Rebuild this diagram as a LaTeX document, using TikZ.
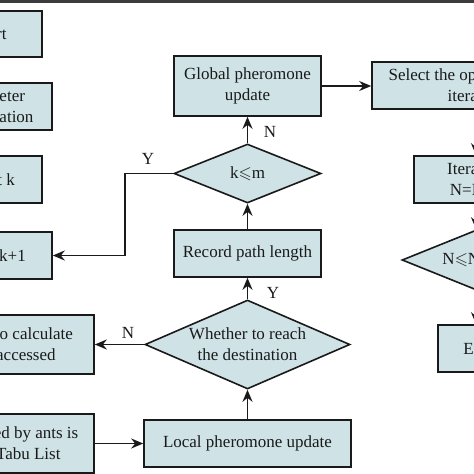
\documentclass[tikz,border=0pt]{standalone}
\usepackage{fontspec}
\setmainfont{Liberation Serif}
\usepackage{amssymb}
\usetikzlibrary{arrows.meta,shapes.geometric,positioning}
\definecolor{boxfill}{HTML}{CFE3E7}
\definecolor{inkgray}{HTML}{1A1A1A}
\definecolor{topbar}{HTML}{3C3C3C}

\begin{document}
\begin{tikzpicture}[x=1pt,y=-1pt,
	box/.style={draw=inkgray,fill=boxfill,line width=1.6pt,align=center,inner sep=0pt,text=inkgray,font=\fontsize{17}{21}\selectfont},
	dia/.style={box,diamond,aspect=2.3},
	lbl/.style={text=inkgray,font=\fontsize{17}{21}\selectfont,inner sep=0pt},
	arr/.style={draw=inkgray,line width=1.6pt,-{Stealth[length=12pt,width=10pt]}}]
	\clip (0,0) rectangle (474,474);
	\fill[white] (0,0) rectangle (474,474);
	% left column
	\node (start) at (-9.5,34)[box,minimum width=103pt,minimum height=46pt] {Start};
	\node (init) at (-9.5,106.5)[box,minimum width=123pt,minimum height=47pt] {Parameter\\initialization};
	\node (antk) at (-15,179.5)[box,minimum width=114pt,minimum height=47pt] {Set ant k};
	\node (kplus) at (-9.5,255.5)[box,minimum width=123pt,minimum height=47pt] {Set k=k+1};
	\node (calc) at (-9.5,344.5)[box,minimum width=207pt,minimum height=59pt] {Use roulette to calculate\\next node accessed};
	\node (tabu) at (-9.5,443.5)[box,minimum width=207pt,minimum height=59pt] {Nodes accessed by ants is\\added into Tabu List};
	% middle column
	\node (global) at (247.5,86)[box,minimum width=147pt,minimum height=60pt] {Global pheromone\\update};
	\node (kcheck) at (247.5,173.5)[dia,minimum width=147pt,minimum height=59pt] {k$\leqslant$m};
	\node (record) at (247.5,253.5)[box,minimum width=147pt,minimum height=47pt] {Record path length};
	\node (reach) at (247.5,344.5)[dia,minimum width=205pt,minimum height=89pt] {Whether to reach\\the destination};
	\node (local) at (247.5,443.5)[box,minimum width=207pt,minimum height=47pt] {Local pheromone update};
	% right column
	\node (select) at (476,85.5)[box,minimum width=208pt,minimum height=47pt] {Select the optimal path of\\iteration};
	\node (iter) at (476,179.5)[box,minimum width=124pt,minimum height=47pt] {Iteration\\N=N+1};
	\node (ncheck) at (476,260)[dia,minimum width=148pt,minimum height=60pt] {N$\leqslant$Nmax};
	\node (finish) at (477,348.5)[box,minimum width=78pt,minimum height=47pt] {End};
	% connectors
	\coordinate (bend1) at (125,173.5);
	\coordinate (bend2) at (125,255.5);
	\draw[arr] (kcheck.west) -- (bend1) -- (bend2) -- (kplus.east);
	\draw[arr] (kcheck) -- (global);
	\draw[arr] (record) -- (kcheck);
	\draw[arr] (reach) -- (record);
	\draw[arr] (local) -- (reach);
	\draw[arr] (reach.west) -- (calc.east);
	\draw[arr] (tabu.east |- local) -- (local.west);
	\draw[arr] (global) -- (select.west |- global);
	\draw[arr] (select) -- (iter);
	\draw[arr] (iter) -- (ncheck);
	\draw[arr] (ncheck) -- (finish.north -| ncheck);
	% branch labels
	\node (ylow) at (148,159)[lbl] {Y};
	\node (nup) at (270,132)[lbl] {N};
	\node (yup) at (273,293)[lbl] {Y};
	\node (nleft) at (128,333)[lbl] {N};
	\fill[topbar] (0,0) rectangle (474,3);
\end{tikzpicture}
\end{document}
